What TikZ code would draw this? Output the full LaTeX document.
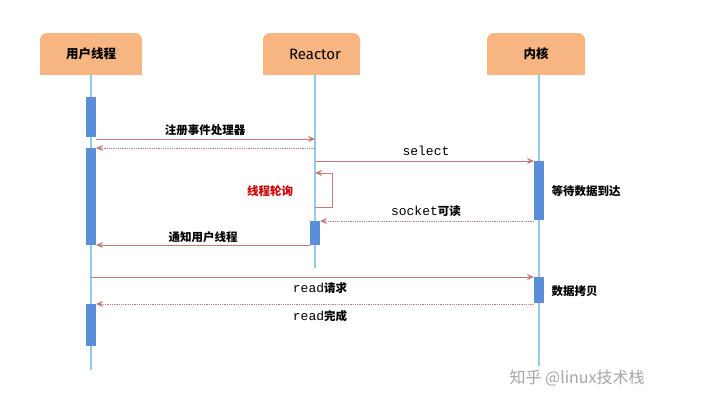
\documentclass[tikz,border=0pt]{standalone}
\usepackage{fontspec}
\setmainfont{Fira Sans}
\newfontfamily\cjk{Noto Sans CJK SC}
\newfontfamily\mono{Liberation Mono}
\usetikzlibrary{arrows.meta}
\definecolor{hdr}{HTML}{F6B581}
\definecolor{life}{HTML}{8FCDE3}
\definecolor{bar}{HTML}{5B8ED8}
\definecolor{arr}{HTML}{C47A78}
\begin{document}
\begin{tikzpicture}[x=1pt,y=-1pt,
  head/.style={fill=hdr,rounded corners=7pt,draw=none},
  lifel/.style={draw=life,line width=1.2pt},
  act/.style={fill=bar,draw=none},
  msg/.style={draw=arr,line width=0.8pt,-{Stealth[length=7pt,width=6pt]}},
  ret/.style={msg,densely dotted},
  lab/.style={font=\cjk\bfseries\fontsize{11.5}{13}\selectfont},
  mlab/.style={font=\mono\fontsize{13}{15}\selectfont}]
\useasboundingbox (0,0) rectangle (710,407);
\fill[white] (0,0) rectangle (710,407);
% headers
\fill[head] (40,75) -- (40,33) -- (142,33) -- (142,75) -- cycle;
\fill[hdr] (40,60) rectangle (142,75);
\node[font=\cjk\bfseries\fontsize{12.5}{14}\selectfont] (hu) at (91,54) {用户线程};
\fill[head] (263,75) -- (263,33) -- (360,33) -- (360,75) -- cycle;
\fill[hdr] (263,60) rectangle (360,75);
\node[font=\fontsize{15}{17}\selectfont] (hr) at (315,54) {Reactor};
\fill[head] (487,75) -- (487,33) -- (585,33) -- (585,75) -- cycle;
\fill[hdr] (487,60) rectangle (585,75);
\node[font=\cjk\bfseries\fontsize{12.5}{14}\selectfont] (hk) at (536,54) {内核};
% lifelines
\coordinate (u0) at (91,75); \coordinate (u1) at (91,370);
\coordinate (r0) at (315,75); \coordinate (r1) at (315,268);
\coordinate (k0) at (539,75); \coordinate (k1) at (539,366);
\draw[lifel] (u0) -- (u1); \draw[lifel] (r0) -- (r1); \draw[lifel] (k0) -- (k1);
% activation bars
\fill[act] (86,97) rectangle (96,137);
\fill[act] (86,148) rectangle (96,245);
\fill[act] (86,304) rectangle (96,346);
\fill[act] (310,221) rectangle (320,245);
\fill[act] (534,161) rectangle (544,220);
\fill[act] (534,277) rectangle (544,303);
% messages
\coordinate (a1) at (96,139); \coordinate (a2) at (315,139);
\draw[msg] (a1) -- (a2);
\node[lab] (l1) at (205,130) {注册事件处理器};
\coordinate (b1) at (315,148); \coordinate (b2) at (96,148);
\draw[ret] (b1) -- (b2);
\coordinate (c1) at (315,161); \coordinate (c2) at (534,161);
\draw[msg] (c1) -- (c2);
\node[mlab] (l2) at (426,151) {select};
\coordinate (d1) at (315,207); \coordinate (d2) at (315,173);
\draw[msg] (d1) -- (332,207) -- (332,173) -- (d2);
\node[lab,text=red!80!black] (l3) at (270,191) {线程轮询};
\coordinate (e1) at (534,221); \coordinate (e2) at (320,221);
\draw[ret] (e1) -- (e2);
\node (l4) at (426,211) {\mono\fontsize{13}{15}\selectfont socket\cjk\bfseries\fontsize{11.5}{13}\selectfont 可读};
\coordinate (f1) at (310,245); \coordinate (f2) at (96,245);
\draw[msg] (f1) -- (f2);
\node[lab] (l5) at (203,237) {通知用户线程};
\coordinate (g1) at (91,277); \coordinate (g2) at (534,277);
\draw[msg] (g1) -- (g2);
\node (l6) at (320,288) {\mono\fontsize{13}{15}\selectfont read\cjk\bfseries\fontsize{11.5}{13}\selectfont 请求};
\coordinate (h1) at (534,304); \coordinate (h2) at (96,304);
\draw[ret] (h1) -- (h2);
\node (l7) at (320,316) {\mono\fontsize{13}{15}\selectfont read\cjk\bfseries\fontsize{11.5}{13}\selectfont 完成};
\node[lab,anchor=west] (k1l) at (548,191) {等待数据到达};
\node[lab,anchor=west] (k2l) at (548,291) {数据拷贝};
\node[font=\cjk\fontsize{16}{18}\selectfont,text=black!35,anchor=west] (wm) at (506,378) {知乎 @linux技术栈};
\end{tikzpicture}
\end{document}
